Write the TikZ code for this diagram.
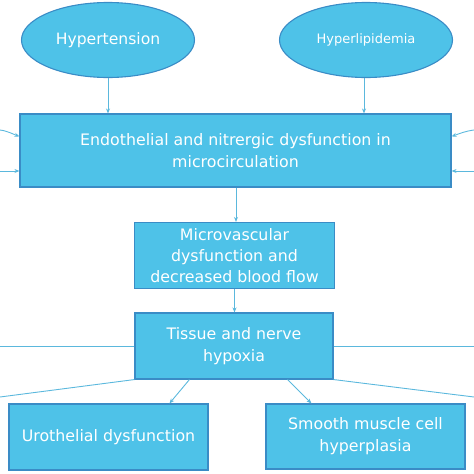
\documentclass[tikz,border=0pt]{standalone}
\usepackage{fontspec}
\setmainfont{DejaVu Sans}
\usetikzlibrary{shapes.geometric,arrows.meta,calc}
\definecolor{boxfill}{HTML}{4EC2E8}
\definecolor{boxline}{HTML}{3A8CC6}
\definecolor{conn}{HTML}{5BB8DD}
\tikzset{
  box/.style={draw=boxline, line width=1.1pt, fill=boxfill, text=white, align=center, inner sep=0pt},
  oval/.style={box, ellipse},
  arr/.style={draw=conn, line width=0.9pt, -{Stealth[length=5pt,width=4pt]}},
  ln/.style={draw=conn, line width=0.9pt},
  txt/.style={font=\fontsize{15.8}{22}\selectfont},
}
\begin{document}
\begin{tikzpicture}[x=1pt,y=-1pt]
\useasboundingbox (0,0) rectangle (474,474);
\node[oval, minimum width=173pt, minimum height=75pt, font=\fontsize{15.6}{20}\selectfont] (hyp) at (108,40) {Hypertension};
\node[oval, minimum width=173pt, minimum height=75pt, font=\fontsize{13}{18}\selectfont] (lip) at (366,40) {Hyperlipidemia};
\node[box, txt, minimum width=431pt, minimum height=73pt] (endo) at (235.5,150.5) {Endothelial and nitrergic dysfunction in\\microcirculation};
\node[box, minimum width=200pt, minimum height=66pt, font=\fontsize{15.8}{21}\selectfont] (micro) at (234.5,255.5) {Microvascular\\dysfunction and\\decreased blood flow};
\node[box, txt, minimum width=198pt, minimum height=66pt] (tissue) at (234,346) {Tissue and nerve\\hypoxia};
\node[box, txt, minimum width=199pt, minimum height=66pt] (uro) at (108.5,437) {Urothelial dysfunction};
\node[box, txt, minimum width=199pt, minimum height=65pt] (smooth) at (365.5,436.5) {Smooth muscle cell\\hyperplasia};
% free ends
\coordinate (l1) at (0,130);
\coordinate (l2) at (0,171);
\coordinate (r1) at (474,130);
\coordinate (r2) at (474,171);
\coordinate (lt) at (0,346);
\coordinate (rt) at (474,346);
\coordinate (lb) at (0,397);
\coordinate (rb) at (474,397);
% connectors
\draw[arr] (hyp.south) -- (hyp.south |- endo.north);
\draw[arr] ($(lip.south)+(-2,0)$) -- ($(lip.south |- endo.north)+(-2,0)$);
\draw[arr] (l1) to[out=-8,in=160] ($(endo.north west)+(0,23)$);
\draw[arr] (l2) -- (l2 -| endo.west);
\draw[arr] (r1) to[out=188,in=20] ($(endo.north east)+(0,23)$);
\draw[arr] (r2) -- (r2 -| endo.east);
\draw[arr] ($(endo.south)+(0.5,0)$) -- ($(endo.south |- micro.north)+(0.5,0)$);
\draw[arr] (micro.south) -- (micro.south |- tissue.north);
\draw[ln] (tissue.west) -- (lt);
\draw[ln] (tissue.east) -- (rt);
\draw[ln] (tissue.south west) -- (lb);
\draw[ln] (tissue.south east) -- (rb);
\draw[arr] ($(tissue.south west)+(55,0)$) -- ($(uro.north west)+(161,0)$);
\draw[arr] ($(tissue.south west)+(153,0)$) -- ($(smooth.north west)+(46,0)$);
\end{tikzpicture}
\end{document}
